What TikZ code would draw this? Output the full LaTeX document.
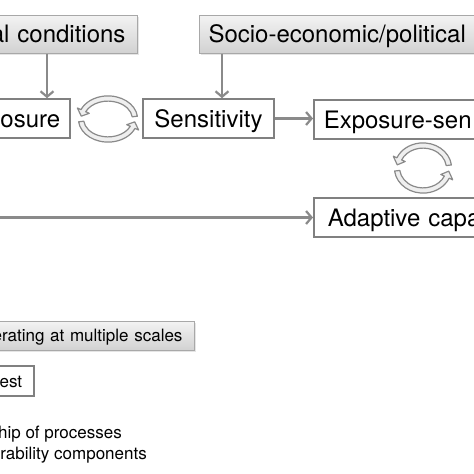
\documentclass[tikz,border=0pt]{standalone}
\usepackage{fontspec}
\setmainfont{TeX Gyre Heros}
\usetikzlibrary{arrows.meta,shadows}
\definecolor{arrgray}{HTML}{8A8A8A}
\definecolor{boxline}{HTML}{808080}
\definecolor{gboxline}{HTML}{A8A8A8}
\definecolor{gtop}{HTML}{F3F3F3}
\definecolor{gbot}{HTML}{D2D2D2}
\definecolor{cycfill}{HTML}{EFEFEF}
\newcommand\cycarc[5]{%
 \begin{scope}[shift={(#1,#2)},yscale=-1,rotate=#5]
   \pgfmathsetmacro\rxo{#3+2.6}\pgfmathsetmacro\ryo{#4+2.6}
   \pgfmathsetmacro\rxi{#3-2.6}\pgfmathsetmacro\ryi{#4-2.6}
   \pgfmathsetmacro\rxb{#3+6.5}\pgfmathsetmacro\ryb{#4+6.5}
   \pgfmathsetmacro\rxc{#3-6.5}\pgfmathsetmacro\ryc{#4-6.5}
   \path[cyc] (7:{\rxo} and {\ryo}) arc[start angle=7,end angle=156,x radius=\rxo,y radius=\ryo]
     -- (156:{\rxb} and {\ryb}) -- (172:{#3} and {#4}) -- (156:{\rxc} and {\ryc}) -- (156:{\rxi} and {\ryi})
     arc[start angle=156,end angle=7,x radius=\rxi,y radius=\ryi] -- cycle;
 \end{scope}}
\begin{document}
\begin{tikzpicture}[x=1pt,y=-1pt,
  big/.style={font=\fontsize{24}{28}\selectfont, text height=17pt, text depth=0pt, minimum height=39pt, inner ysep=0pt},
  small/.style={font=\fontsize{17}{20}\selectfont, text height=12.2pt, text depth=0pt, inner ysep=0pt},
  wbox/.style={draw=boxline, line width=1.6pt, fill=white},
  gbox/.style={draw=gboxline, line width=1pt, top color=gtop, bottom color=gbot, drop shadow={opacity=0.2,shadow xshift=1pt,shadow yshift=-1.5pt}},
  arr/.style={draw=arrgray, line width=2.2pt, -{Straight Barb[length=5.5pt,width=13pt]}},
  cyc/.style={draw=arrgray, line width=1.2pt, fill=cycfill, line join=round},
  ltext/.style={font=\fontsize{17}{20}\selectfont, anchor=base east, inner sep=0pt}]
\useasboundingbox (0,0) rectangle (474,474);
\fill[white] (0,0) rectangle (474,474);
\clip (0,0) rectangle (474,474);

% top condition boxes
\node[big,gbox,anchor=east,text width=200pt,align=right,inner xsep=12pt,minimum height=38pt] (cond) at (138,34) {al conditions};
\node[big,gbox,anchor=west,text width=300pt,align=left,inner xsep=9pt,minimum height=38pt] (socio) at (199,34) {Socio-economic/political};

% main boxes
\node[big,wbox,anchor=east,text width=150pt,align=right,inner xsep=10pt] (expo) at (71,118.5) {osure};
\node[big,wbox,minimum width=131pt] (sens) at (208.5,118.5) {Sensitivity};
\node[big,wbox,anchor=west,text width=250pt,align=left,inner xsep=10pt] (expsen) at (313,119.5) {Exposure-sen};
\node[big,wbox,anchor=west,text width=250pt,align=left,inner xsep=14pt] (adapt) at (313,217.5) {Adaptive capa};

% connectors
\coordinate (xA) at (47,0);
\coordinate (xB) at (222,0);
\coordinate (ls) at (-20,217.5);
\draw[arr] (cond.south -| xA) -- (expo.north -| xA);
\draw[arr] (socio.south -| xB) -- (sens.north -| xB);
\draw[arr] (sens.east) -- (expsen.west |- sens.east);
\draw[arr] (ls) -- (adapt.west);

% circular arrows
\cycarc{108}{119}{27}{20.5}{0}
\cycarc{108}{119}{27}{20.5}{180}
\cycarc{423}{168}{26}{22.5}{0}
\cycarc{423}{168}{26}{22.5}{180}

% legend
\node[small,gbox,anchor=east,text width=250pt,align=right,inner xsep=12pt,minimum height=29pt] (scales) at (195,335.5) {erating at multiple scales};
\node[small,wbox,anchor=east,text width=100pt,align=right,inner xsep=12pt,minimum height=30pt] (est) at (35,381) {est};
\node[ltext] (l1) at (122,438.5) {hip of processes};
\node[ltext] (l2) at (147,459) {rability components};
\end{tikzpicture}
\end{document}
